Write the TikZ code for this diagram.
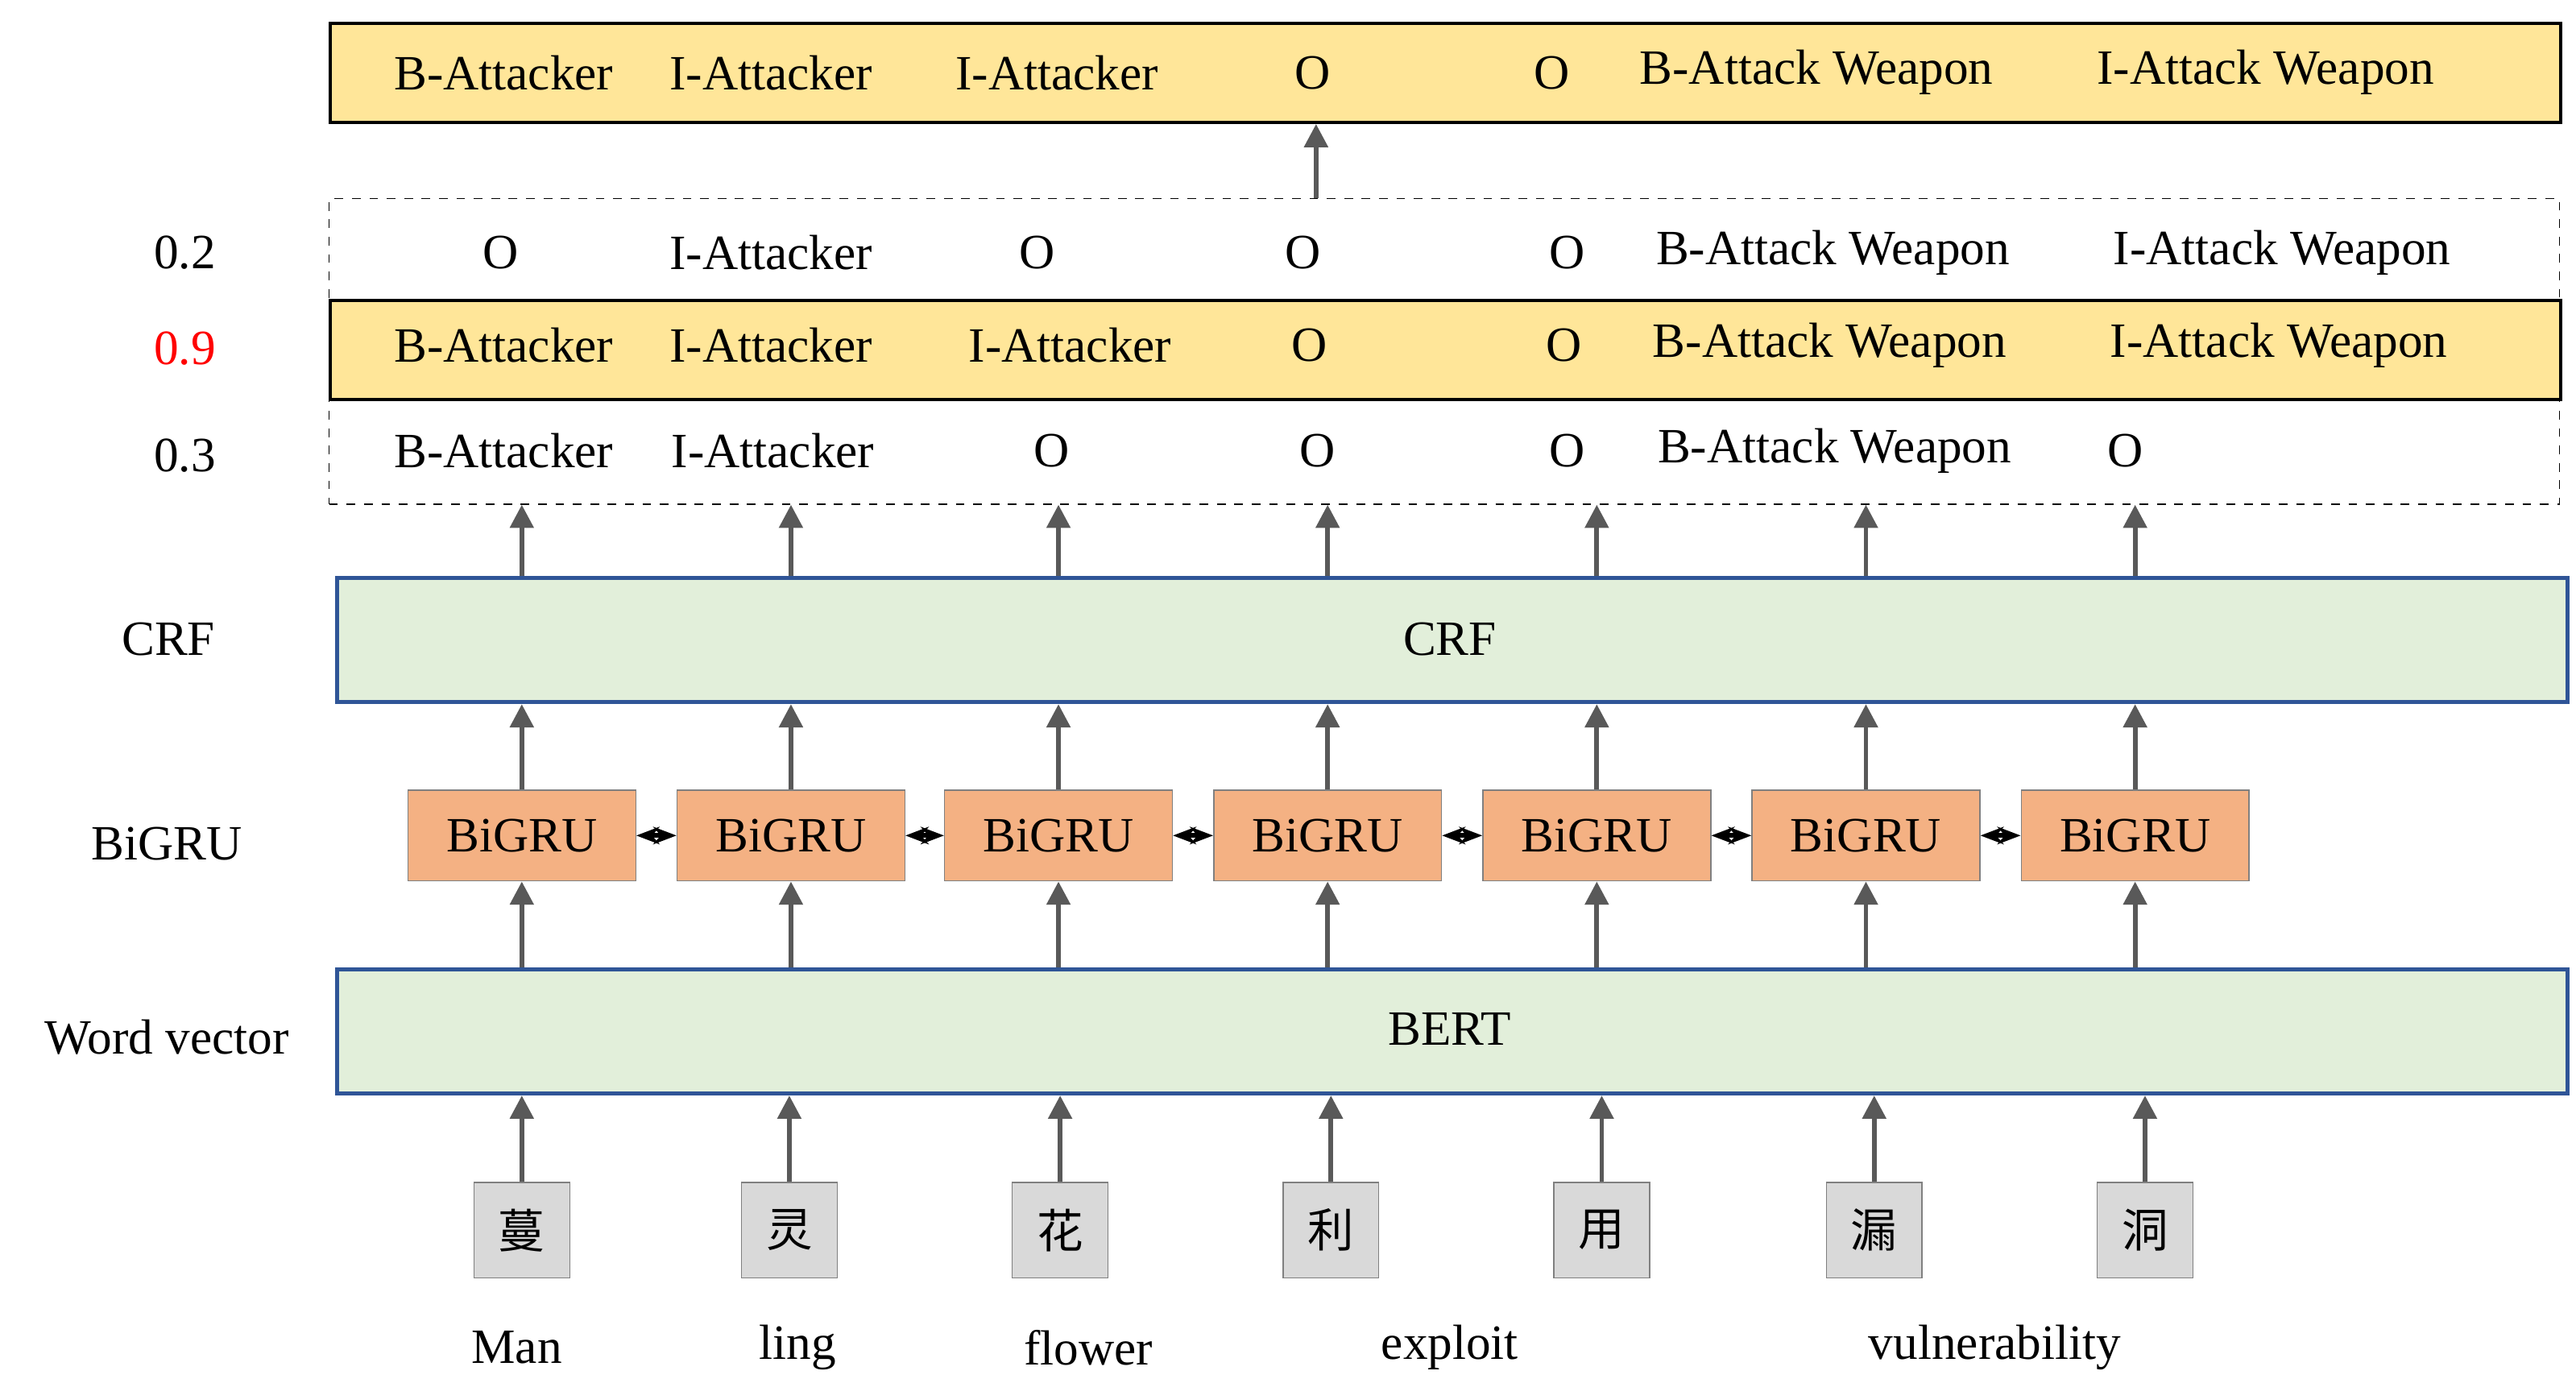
\documentclass[tikz,border=0pt]{standalone}
\usepackage{fontspec}
\setmainfont{Liberation Serif}
\newfontfamily\cjk{Noto Sans CJK SC}
\usetikzlibrary{positioning,arrows.meta}
\definecolor{tagyellow}{HTML}{FFE699}
\definecolor{layergreen}{HTML}{E2EFDA}
\definecolor{layerblue}{HTML}{2F5597}
\definecolor{gruorange}{HTML}{F4B183}
\definecolor{arrgray}{HTML}{595959}
\begin{document}
\begin{tikzpicture}[x=0.02cm, y=-0.02cm, font=\fontsize{17}{20}\selectfont,
    tagbox/.style={draw, line width=1.2pt, fill=tagyellow, minimum width=27.02cm, minimum height=1.2cm, anchor=north west},
    layer/.style={draw=layerblue, line width=1.4pt, fill=layergreen, minimum width=27.02cm, minimum height=1.5cm, anchor=north west},
    gru/.style={draw=gray, fill=gruorange, minimum width=2.76cm, minimum height=1.1cm, inner sep=0pt},
    char/.style={draw=gray, fill=gray!30, minimum size=1.16cm, inner sep=0pt, font=\cjk\fontsize{16}{18}\selectfont},
    up/.style={-{Triangle[length=8pt,width=8pt]}, draw=arrgray, line width=1.6pt},
    bi/.style={{Stealth[length=8pt]}-{Stealth[length=8pt]}, line width=1.6pt}]
    \useasboundingbox (0,0) rectangle (1560,835);
    % Output tags
    \node[tagbox] (out) at (199,13) {};
    \foreach \x/\t in {305/B-Attacker, 467/I-Attacker, 640/I-Attacker, 795/O, 940/O, 1100/B-Attack Weapon, 1372/I-Attack Weapon}
        \node at (\x,44) {\t};
    % Candidate paths
    \node[draw, dashed, minimum width=27.02cm, minimum height=3.7cm, anchor=north west] (dash) at (199,120) {};
    \node[tagbox] (best) at (199,181) {};
    \foreach \x/\t in {303/O, 467/I-Attacker, 628/O, 789/O, 949/O, 1110/B-Attack Weapon, 1382/I-Attack Weapon}
        \node at (\x,153) {\t};
    \foreach \x/\t in {305/B-Attacker, 467/I-Attacker, 648/I-Attacker, 793/O, 947/O, 1108/B-Attack Weapon, 1380/I-Attack Weapon}
        \node at (\x,209) {\t};
    \foreach \x/\t in {305/B-Attacker, 468/I-Attacker, 637/O, 798/O, 949/O, 1111/B-Attack Weapon, 1287/O}
        \node at (\x,273) {\t};
    \coordinate (top) at (797,120);
    \draw[up] (top) -- (top |- out.south);
    % Row labels
    \node at (112,153) {0.2};
    \node[text=red] at (112,211) {0.9};
    \node at (112,276) {0.3};
    \node at (102,387) {CRF};
    \node at (101,511) {BiGRU};
    \node at (101,628) {Word vector};
    % Layers
    \node[layer] (crf) at (203,349) {};
    \node at (878,387) {CRF};
    \node[layer] (bert) at (203,586) {};
    \node at (878,623) {BERT};
    \foreach \i/\x in {1/316, 2/479, 3/641, 4/804, 5/967, 6/1130, 7/1293}
        \node[gru] (g\i) at (\x,506) {BiGRU};
    \foreach \i/\x/\c in {1/316/蔓, 2/478/灵, 3/642/花, 4/806/利, 5/970/用, 6/1135/漏, 7/1299/洞}
        \node[char] (c\i) at (\x,745) {\c};
    \foreach \i [evaluate=\i as \j using int(\i+1)] in {1,...,6}
        \draw[bi] (g\i.east) -- (g\j.west);
    % Connections
    \foreach \i in {1,...,7} {
        \draw[up] (c\i.north) -- (c\i.north |- bert.south);
        \draw[up] (g\i.north |- bert.north) -- (g\i.south);
        \draw[up] (g\i.north) -- (g\i.north |- crf.south);
        \draw[up] (g\i.north |- crf.north) -- (g\i.north |- dash.south);
    }
    % Words
    \foreach \x/\t in {313/Man, 483/ling, 659/flower, 878/exploit, 1208/vulnerability}
        \node at (\x,816) {\t};
\end{tikzpicture}
\end{document}
